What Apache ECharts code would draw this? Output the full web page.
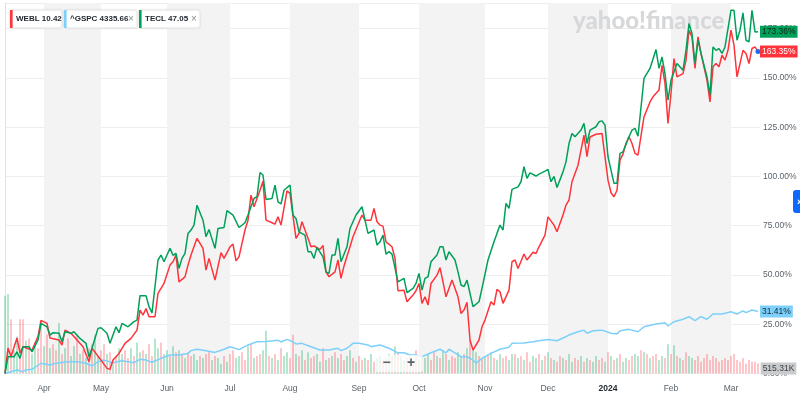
<!DOCTYPE html>
<html><head><meta charset="utf-8">
<script src="https://cdn.jsdelivr.net/npm/echarts@6/dist/echarts.min.js"></script>
<style>html,body{margin:0;padding:0;background:#fff}#c{width:800px;height:405px}</style>
</head><body><div id="c"></div>
<script>
// ---- data ----
const monthIdx = [13,32,54,75,95,118,138,160,181,201,222,242];
const monthLabels = ['Apr','May','Jun','Jul','Aug','Sep','Oct','Nov','Dec','2024','Feb','Mar'];
const legendNames = ['WEBL','^GSPC','TECL'];
const legendValues = ['10.42','4335.66','47.05'];
// [trading day index, % change]
const webl = [[0,0],[1,12.9],[2,8.5],[4,18],[5,10.4],[6,13.6],[9,11.9],[11,18.7],[12,27],[14,25.4],[15,18],[18,17],[19,14.4],[20,22],[22,20.4],[26,13.6],[28,6],[29,12.8],[32,6.8],[34,2.6],[35,2.1],[36,6.8],[38,10.2],[40,15.3],[42,17.8],[44,22],[45,32.2],[46,29.6],[47,33],[48,28.8],[50,28.8],[51,40.7],[53,45.7],[55,55],[56,56.7],[57,60.1],[58,46.5],[60,49],[61,55],[62,60.1],[64,68.6],[66,63.5],[67,52.5],[68,58.4],[70,47.4],[72,61.3],[73,58.4],[75,64.3],[76,65.7],[77,57.2],[78,59.2],[80,72.8],[81,77.8],[82,90.5],[83,84.6],[85,93],[86,97.6],[87,77.8],[89,76.5],[90,75.8],[91,79.5],[92,75.3],[94,92.7],[95,91.4],[97,68.6],[98,71.1],[99,77],[101,68.6],[102,64.3],[103,64.7],[105,63],[106,65],[107,51.6],[108,49.1],[110,51.6],[111,57.6],[112,48.3],[113,54.5],[115,64.3],[116,69.4],[119,80.4],[120,77.8],[122,77.8],[123,83.8],[124,77],[125,75.3],[126,74.8],[127,66.8],[129,64.3],[130,58.4],[131,42],[133,42.3],[134,36.4],[136,39.8],[137,42],[138,45.7],[139,35.6],[140,38.9],[141,34.7],[142,45.7],[144,49.9],[145,53.7],[146,46.5],[147,38.9],[149,47.4],[151,38.9],[152,30.5],[153,32.2],[154,36.1],[155,17],[156,11.9],[158,17],[159,23.7],[160,27.1],[162,36.4],[163,34.7],[164,42.7],[165,41.5],[166,35.6],[168,42.3],[169,56.7],[170,57.6],[171,53.3],[173,60.6],[174,57.6],[176,61.5],[177,60.9],[178,64.3],[180,70.2],[181,79.5],[183,75.3],[184,71.9],[186,80.4],[187,85.4],[188,88],[189,97.3],[191,105.7],[193,120.9],[194,110],[195,120],[197,121.4],[199,121.8],[200,110],[201,98.1],[202,91.7],[203,89.7],[204,93],[205,108.3],[206,111.3],[207,116.7],[208,120.1],[209,116.7],[210,111.7],[211,110.8],[213,130.2],[215,137.8],[216,140.4],[218,143.8],[219,156.4],[220,147.2],[221,126.9],[222,142.1],[223,159.8],[224,150.5],[226,152.2],[227,159],[228,174.2],[229,170.8],[230,154.8],[231,170.8],[232,162.4],[234,148.8],[235,137.8],[236,155.6],[237,157.3],[238,155.6],[239,161.5],[240,159],[241,164],[242,174.2],[243,166.6],[244,150.5],[246,164],[247,162.4],[248,157.3],[249,164.9],[250,165.7],[251,163.35]];
const tecl = [[0,0],[1,8.5],[3,8.5],[4,11],[5,7.7],[6,13.6],[8,13.6],[9,11],[11,17],[12,25.4],[14,23.7],[15,19.5],[16,20.7],[18,20.4],[19,16.1],[20,21.2],[22,20.4],[23,21.2],[25,17.8],[27,15.3],[28,8.5],[29,12.8],[31,22.9],[32,23.2],[34,20.4],[35,15.3],[37,23.7],[38,20.7],[39,25.4],[41,23.7],[43,26.3],[44,27.1],[45,39.5],[47,39.5],[48,33.9],[49,30.8],[51,57.6],[52,60.1],[53,56.7],[54,60.1],[55,63.5],[56,60],[57,61],[58,53.3],[59,58.4],[60,61],[61,71],[62,72.8],[63,75.3],[64,85.4],[66,77.8],[67,69.4],[68,73.1],[70,63.5],[71,73.6],[73,74.1],[74,82.6],[76,80.4],[78,74.1],[80,76.5],[81,80.4],[83,88.8],[84,89.7],[85,102],[86,100.7],[87,88.3],[89,88.8],[90,95.6],[91,87.1],[92,86],[93,93],[95,95.6],[96,80.4],[97,78.7],[98,71.9],[100,70.2],[101,61.8],[102,61.8],[103,58.4],[104,64],[106,59.2],[107,51.6],[108,50.8],[109,60.1],[110,60.1],[111,68.6],[112,56.7],[114,64.3],[115,73.6],[117,80.4],[119,84.6],[120,77.8],[121,71.1],[123,72.8],[124,65.2],[125,66.8],[126,70.2],[127,60.6],[128,61.8],[129,60.6],[131,46.5],[133,48.3],[134,41],[136,43.2],[137,45.7],[138,50.8],[139,42.3],[140,48.3],[141,49.1],[142,56.7],[144,60.1],[145,64.3],[146,64.3],[147,57.6],[148,61.8],[150,57.6],[151,51.6],[152,44.9],[153,44.1],[154,47.4],[155,40.7],[156,33.9],[158,36.4],[159,43.2],[161,57.6],[163,66.8],[164,71.1],[165,75.3],[166,72.8],[167,86.3],[168,83.8],[169,93.4],[171,94.7],[172,97.3],[173,104.9],[174,99],[175,101.8],[177,100.2],[178,101.2],[180,102.7],[181,103.5],[182,97.3],[183,100],[184,94.4],[186,102.3],[187,107.4],[188,116.7],[189,121.8],[190,120.1],[192,123.5],[193,126.9],[194,116.7],[195,123.5],[197,125.2],[198,127.7],[199,128.2],[200,126],[201,110],[202,103.2],[203,96.5],[204,96.5],[205,111.7],[206,112.5],[208,120.1],[209,123.5],[210,124.4],[211,120.4],[213,149.7],[215,154.8],[217,164.4],[218,154.8],[219,160.6],[220,152.2],[221,138.7],[222,148.8],[224,157.3],[226,153.9],[227,164],[228,177.6],[229,172.5],[230,157.3],[231,169.1],[232,162.4],[234,150.5],[235,141.2],[236,165.7],[237,164],[238,164.9],[239,162.4],[240,165.7],[242,184.3],[243,184.3],[244,169.1],[245,174.2],[246,183],[247,169.1],[248,168.3],[249,184.3],[250,173.3],[251,173.36]];
const gspc = [[0,0],[2,0.9],[4,1.8],[6,0.9],[7,1.8],[9,2.1],[12,5.2],[15,4.3],[17,5.2],[21,6],[24,6],[27,5.2],[29,3.8],[31,6],[33,6.8],[36,5.5],[39,6.5],[43,5.5],[45,7.2],[47,6.8],[49,5.7],[52,7.7],[55,9.4],[58,9.4],[61,10.2],[62,11.6],[64,12.3],[67,11.6],[70,10.7],[73,12.3],[75,13.6],[78,12.1],[81,14.5],[84,16.1],[87,16.2],[91,16.9],[92,16],[94,17.3],[96,16.1],[97,15],[99,15.3],[102,13.6],[105,11.9],[108,11.9],[111,12.8],[112,11.6],[114,12.8],[116,15.3],[118,15.3],[121,14.5],[122,13.6],[125,14.5],[128,12.8],[131,10.5],[133,10.5],[135,9.4],[137,9.4],[139,8.5],[142,10.5],[145,12.3],[147,10.5],[148,12.3],[150,10.5],[152,8.5],[154,8.5],[156,6.8],[157,5.2],[159,7.7],[162,10.2],[165,12.3],[168,13.3],[169,15.3],[173,15.5],[176,16.1],[178,16.6],[181,17.3],[184,16.6],[186,18],[188,19.5],[191,21.2],[193,22],[194,20.4],[196,21.7],[199,22],[202,20.4],[204,20.1],[205,21.7],[208,22.4],[211,21.2],[213,23.7],[217,25.1],[220,25.7],[221,24.1],[223,26.3],[226,27.5],[228,28.8],[230,26.8],[232,28.8],[234,27.5],[236,30.2],[239,30.2],[242,31.3],[244,30.2],[246,31.8],[247,30.9],[249,32.2],[251,31.41]];
// daily volume of WEBL (thousands), one per trading day
const volumes = [4000,4100,2800,1200,1900,2800,2800,1700,1800,1000,
1600,1300,2700,1400,2000,1300,1500,1200,2600,1000,
1300,1800,900,1400,2000,1000,1200,800,1300,1500,
2000,900,1200,1500,1000,1100,700,900,1300,1000,
1200,800,1300,900,1600,1100,1200,1000,1500,900,
1800,1300,1600,1000,1200,900,1400,1100,1200,1000,
800,1100,900,1000,700,900,800,1000,1100,700,
900,800,500,900,600,1000,1200,800,900,1100,
700,1400,1500,800,900,1000,1200,2200,900,800,
1000,700,1300,900,1100,800,2000,1000,900,1200,
700,1100,800,900,1000,600,1300,700,800,900,
1100,800,1000,700,900,1200,800,600,900,700,
800,700,1000,600,800,900,700,800,1000,900,
1400,1100,900,700,800,1000,600,1200,700,900,
800,1000,700,1100,900,800,1200,1000,700,900,
800,1100,900,1000,1300,1700,1200,1100,900,800,
900,1000,1100,800,700,1000,800,900,700,1000,
1000,800,900,700,1100,600,900,800,1000,700,
900,1100,800,700,600,900,800,700,1000,600,
800,700,900,600,800,700,600,900,700,800,
600,1100,900,700,800,1000,600,800,700,900,
1000,900,1200,1100,1000,800,900,1000,700,900,
800,1500,1000,1450,900,800,700,1100,900,800,
700,900,600,800,1000,700,900,800,600,700,
800,700,900,1000,700,600,800,500,700,600,
600,515.31];
const volUp = 'GGRGGRRGRGGRRGRGRRGRGRGGRGRGRRGGRRGRGRGGRRGRGGRGRRGGRGGRGRGRGRRGGRGRRGRGGRGRRGGRRGRGRRGGRGRGRGGRRGRGRGRRGGRGRGRGRRGGRGRRGRGRGGRRGRGRGGRGRRGRGGRRGRGRGRRGGRGRGGRRGRGRGGRRGGRGRGRRGGRGRGRGRRGRGGRRGRGRGGRRGRGRGRGGRRGGRGRGRRGGRGRGRGRRGGRR';

// ---- styles ----
const RED = '#ff333a', GREEN = '#00a05a', BLUE = '#7dd0fa';
const FONT = 'Liberation Sans';
const bands = [];
for (let i = 0; i + 1 < monthIdx.length; i += 2) bands.push([{xAxis: monthIdx[i]}, {xAxis: monthIdx[i+1]}]);

const chart = echarts.init(document.getElementById('c'), null, {renderer: 'canvas'});

function endTag(bg, fg) {
  return {show: true, distance: 2, formatter: p => p.value[1].toFixed(2) + '%',
    backgroundColor: bg, color: fg, fontFamily: FONT, fontSize: 8.5, padding: [2, 2, 1, 2], align: 'left'};
}

const legendGraphics = [];
const boxes = [{x: 10, w: 52, c: RED, close: false}, {x: 64, w: 73, c: BLUE, close: true}, {x: 139, w: 61, c: GREEN, close: true}];
boxes.forEach((b, i) => {
  legendGraphics.push({type: 'rect', shape: {x: b.x, y: 10, width: b.w, height: 18, r: 2},
    style: {fill: '#fff', stroke: '#e8e8e8', lineWidth: 1, shadowBlur: 2, shadowColor: 'rgba(0,0,0,0.08)'}, z: 100});
  legendGraphics.push({type: 'rect', shape: {x: b.x, y: 10, width: 2.6, height: 18}, style: {fill: b.c}, z: 101});
  legendGraphics.push({type: 'text', x: b.x + 6, y: 19, style: {text: legendNames[i] + ' ' + legendValues[i],
    fill: '#232a31', font: 'bold 8px ' + FONT, verticalAlign: 'middle'}, z: 101});
  if (b.close) legendGraphics.push({type: 'text', x: b.x + b.w - 9, y: 19, style: {text: '×', fill: '#828c93',
    font: '10px ' + FONT, verticalAlign: 'middle'}, z: 101});
});

const option = {
  animation: false,
  backgroundColor: '#ffffff',
  grid: {left: 5, right: 40, top: 3, bottom: 31.5, containLabel: false},
  xAxis: {type: 'value', min: 0, max: 251.67,
    axisLine: {show: false}, axisTick: {show: false}, splitLine: {show: false},
    axisLabel: {customValues: monthIdx, margin: 11, color: '#5b636a', fontFamily: FONT, fontSize: 8.5,
      formatter: v => { const k = monthIdx.indexOf(Math.round(v)); const t = k >= 0 ? monthLabels[k] : '';
        return t === '2024' ? '{b|2024}' : t; },
      rich: {b: {fontWeight: 'bold', color: '#232a31', fontFamily: FONT, fontSize: 8.5}}}},
  yAxis: [
    {type: 'value', position: 'right', min: 0, max: 188, interval: 25, z: 1,
      axisLine: {show: true, lineStyle: {color: '#e2e2e2'}}, axisTick: {show: false},
      splitLine: {lineStyle: {color: '#eeeeee'}},
      axisLabel: {margin: 3, color: '#5b636a', fontFamily: FONT, fontSize: 8.5,
        formatter: v => (v % 25 === 0 ? v.toFixed(2) + '%' : '')}},
    {type: 'value', min: 0, max: 19080, show: false}
  ],
  series: [
    {type: 'line', name: 'bands', data: [[0, 0]], symbol: 'none', lineStyle: {opacity: 0}, z: 0, silent: true,
      markArea: {silent: true, itemStyle: {color: '#f3f3f3'}, data: bands}},
    {type: 'bar', name: 'Volume', yAxisIndex: 1, barWidth: 1.3, z: 2,
      data: volumes.map((v, i) => {
        const it = {value: [i, v], itemStyle: {color: volUp[i] === 'G' ? 'rgba(0,170,90,0.45)' : 'rgba(255,60,70,0.45)'}};
        if (i === volumes.length - 1) it.label = {show: true, position: 'right', distance: 2,
          formatter: p => p.value[1].toFixed(2) + 'K', backgroundColor: '#c9cbcd', color: '#3c4247',
          fontFamily: FONT, fontSize: 8.5, padding: [2, 2, 1, 2]};
        return it; })},
    {type: 'line', name: 'WEBL', data: webl.map((d, i) => i === webl.length - 1 ?
        {value: d, symbol: 'circle', symbolSize: 5, itemStyle: {color: '#1a6ef5'}} : {value: d}),
      symbol: 'none', lineStyle: {color: RED, width: 1.5}, itemStyle: {color: RED}, z: 5,
      endLabel: endTag(RED, '#ffffff')},
    {type: 'line', name: '^GSPC', data: gspc, symbol: 'none', showSymbol: false, lineStyle: {color: BLUE, width: 1.5}, z: 4,
      endLabel: endTag(BLUE, '#14293a')},
    {type: 'line', name: 'TECL', data: tecl, symbol: 'none', showSymbol: false, lineStyle: {color: GREEN, width: 1.5}, z: 6,
      endLabel: endTag(GREEN, '#0d2416')}
  ],
  graphic: [
    {type: 'text', x: 573, y: 21, style: {text: 'yahoo!finance', fill: '#d7d8da', font: '900 24px Lato', verticalAlign: 'middle'}, z: 3},
    {type: 'rect', shape: {x: 375, y: 355, width: 48, height: 17, r: 2}, style: {fill: 'rgba(255,255,255,0.75)'}, z: 50},
    {type: 'text', x: 386.5, y: 363.5, style: {text: '−', fill: '#5b636a', font: 'bold 14px ' + FONT, align: 'center', verticalAlign: 'middle'}, z: 51},
    {type: 'text', x: 411, y: 363.5, style: {text: '+', fill: '#5b636a', font: 'bold 14px ' + FONT, align: 'center', verticalAlign: 'middle'}, z: 51},
    {type: 'rect', shape: {x: 793, y: 190, width: 12, height: 23, r: 3}, style: {fill: '#0f69ff'}, z: 50},
    {type: 'text', x: 797, y: 201.5, style: {text: '›', fill: '#ffffff', font: 'bold 11px ' + FONT, verticalAlign: 'middle'}, z: 51}
  ].concat(legendGraphics)
};
chart.setOption(option);
</script></body></html>
